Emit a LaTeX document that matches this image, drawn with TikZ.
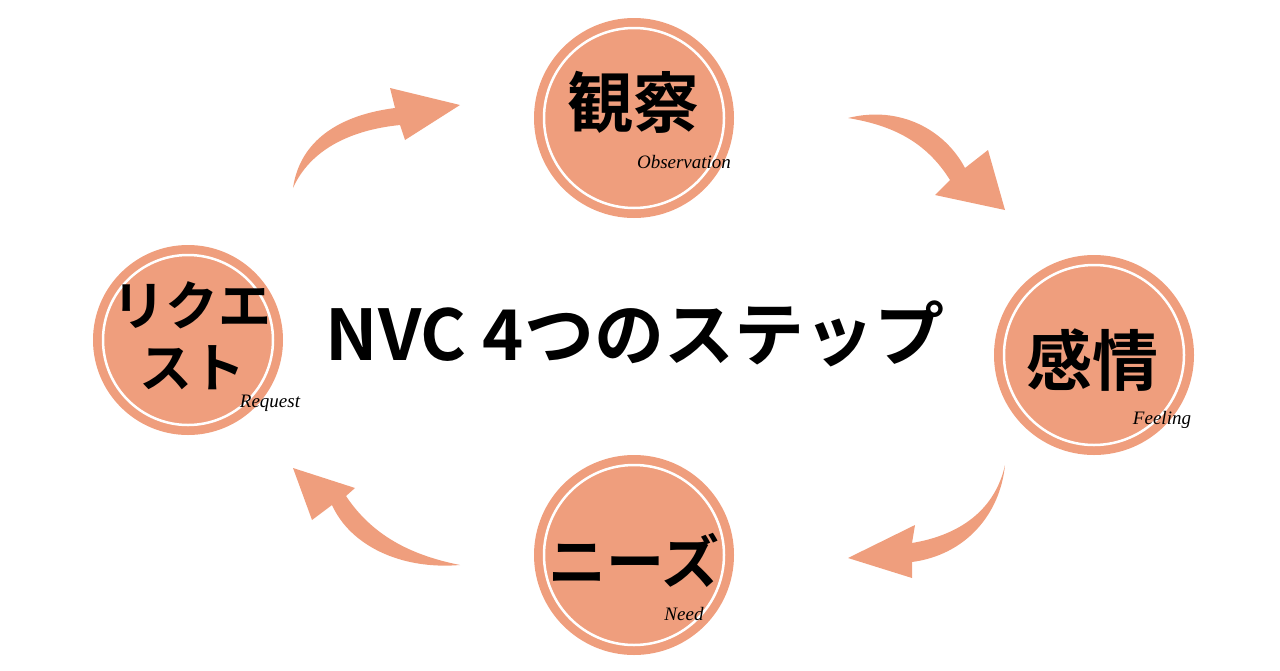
\documentclass[tikz,border=0pt]{standalone}
\usepackage{fontspec}
\setmainfont{Noto Sans CJK JP Bold}
\newfontfamily\engfont{Liberation Serif}
\definecolor{peach}{HTML}{EF9E7D}
\begin{document}
\begin{tikzpicture}[x=1pt,y=-1pt,
  stepcirc/.style={circle,fill=peach,minimum size=200pt,inner sep=0pt},
  ring/.style={circle,draw=white,line width=2.5pt,minimum size=180pt,inner sep=0pt},
  jp/.style={font=\fontsize{66}{70}\selectfont,align=center,inner sep=0pt},
  en/.style={font=\engfont\itshape\fontsize{19}{19}\selectfont},
  arr/.style={fill=peach,draw=none}]
\useasboundingbox (0,0) rectangle (1280,670);
\node[stepcirc] (o) at (634,118) {};
\node[ring] at (o) {};
\node[jp] at (633,102) {観察};
\node[en] (oe) at (684,162) {Observation};
\node[stepcirc] (f) at (1094,355) {};
\node[ring] at (f) {};
\node[jp] at (1092,360) {感情};
\node[en] (fe) at (1162,420) {Feeling};
\node[stepcirc] (n) at (634,555) {};
\node[ring] at (n) {};
\node[jp,font=\fontsize{58}{70}\selectfont] at (634,560) {ニーズ};
\node[en] (ne) at (684,614) {Need};
\node[stepcirc,minimum size=190pt] (r) at (188,340) {};
\node[ring,minimum size=170pt] at (r) {};
\node[jp,font=\fontsize{53}{62}\selectfont] at (192,336) {リクエ\\スト};
\node[en] (re) at (270,403) {Request};
\node[font=\fontsize{70}{72}\selectfont] (t) at (635,334) {NVC 4つのステップ};
% arrows
\fill[arr] (293,188) .. controls (300,140) and (340,115) .. (395,108) -- (390,88) -- (460,105) -- (405,140) -- (400,125) .. controls (350,130) and (310,150) .. (293,188) -- cycle;
\fill[arr] (848,118) .. controls (900,105) and (945,130) .. (965,168) -- (988,150) -- (1005,210) -- (935,195) -- (950,180) .. controls (925,140) and (890,125) .. (848,118) -- cycle;
\fill[arr] (1005,465) .. controls (995,510) and (960,535) .. (912,543) -- (915,525) -- (848,558) -- (912,578) -- (912,562) .. controls (965,555) and (1000,515) .. (1005,465) -- cycle;
\fill[arr] (460,565) .. controls (400,570) and (350,545) .. (332,505) -- (312,520) -- (293,468) -- (355,488) -- (346,496) .. controls (372,535) and (410,555) .. (460,565) -- cycle;
\end{tikzpicture}
\end{document}
